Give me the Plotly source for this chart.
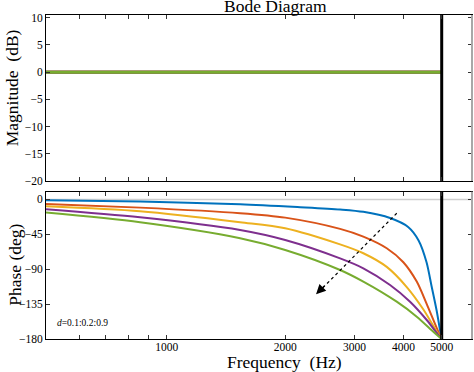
import math
import plotly.graph_objects as go

# ---------------- data ----------------
d_values = ["d=0.1", "d=0.3", "d=0.5", "d=0.7", "d=0.9"]
colors = ["#0072BD", "#D95319", "#EDB120", "#7E2F8E", "#77AC30"]

mag_freq = [493, 5000]
mag_db = [0, 0]

freq_d01 = [493, 855, 1536, 2183, 2758, 3160, 3695, 4107, 4367, 4575, 4712, 4852, 4951, 5000]
phase_d01 = [-1.0, -2.8, -6.2, -10.0, -13.0, -16.0, -24.0, -35.5, -52.9, -81.0, -112.0, -143.0, -168.4, -180]

freq_d03 = [493, 855, 1536, 2000, 2758, 3160, 3624, 3994, 4320, 4581, 4858, 5000]
phase_d03 = [-5.8, -10.6, -17.8, -23.5, -38, -48, -63, -81, -106, -135, -166, -180]

freq_d05 = [493, 855, 1536, 2000, 2758, 3160, 3624, 4075, 4492, 4858, 5000]
phase_d05 = [-8.8, -15.2, -29.4, -37.2, -58, -69.4, -87, -113, -142, -170.6, -180]

freq_d07 = [493, 855, 1536, 2000, 2758, 3160, 3695, 4154, 4581, 4902, 5000]
phase_d07 = [-12.6, -23, -39.4, -52.3, -76, -88.8, -110.3, -131.9, -155.5, -174.8, -180]

freq_d09 = [493, 855, 1536, 2000, 2758, 3160, 3842, 4320, 4761, 5000]
phase_d09 = [-17, -29.4, -50.1, -65.2, -91, -106, -131.9, -151.2, -170.6, -180]

phase_freqs = [freq_d01, freq_d03, freq_d05, freq_d07, freq_d09]
phase_vals = [phase_d01, phase_d03, phase_d05, phase_d07, phase_d09]

nyquist = 5000
x_tickvals = [600, 700, 800, 900, 1000, 2000, 3000, 4000, 5000]
x_ticktext = ["", "", "", "", "1000", "2000", "3000", "4000", "5000"]
mag_ticks = [-20, -15, -10, -5, 0, 5, 10]
phase_ticks = [-180, -135, -90, -45, 0]

x_min, x_max = 493, 5970
mag_range = [-20, 10.5]
phase_range = [-180, 10]

arrow_start = (3843, -17.8)
arrow_tip = (2396, -122.3)

# ---------------- figure ----------------
serif = "Liberation Serif, Times New Roman, serif"
fig = go.Figure()

# magnitude lines (all overlap at 0 dB)
for name, c in zip(d_values, colors):
    fig.add_trace(go.Scatter(x=mag_freq, y=mag_db, mode="lines", name=name,
                             line=dict(color=c, width=3), xaxis="x", yaxis="y",
                             showlegend=False))

# phase zero reference
fig.add_trace(go.Scatter(x=[x_min, x_max], y=[0, 0], mode="lines",
                         line=dict(color="#cfcfcf", width=1.5), xaxis="x2", yaxis="y2",
                         showlegend=False))

for name, c, fx, px in zip(d_values, colors, phase_freqs, phase_vals):
    fig.add_trace(go.Scatter(x=fx, y=px, mode="lines", name=name,
                             line=dict(color=c, width=2, shape="spline", smoothing=0.8),
                             xaxis="x2", yaxis="y2", showlegend=False))

# dotted arrow shaft
fig.add_trace(go.Scatter(x=[arrow_start[0], 2470], y=[arrow_start[1], -116],
                         mode="lines", line=dict(color="black", width=1.2, dash="dot"),
                         xaxis="x2", yaxis="y2", showlegend=False))

# vertical Nyquist lines
fig.add_trace(go.Scatter(x=[nyquist, nyquist], y=mag_range, mode="lines",
                         line=dict(color="black", width=3), xaxis="x", yaxis="y",
                         showlegend=False))
fig.add_trace(go.Scatter(x=[nyquist, nyquist], y=phase_range, mode="lines",
                         line=dict(color="black", width=3), xaxis="x2", yaxis="y2",
                         showlegend=False))

tickfont = dict(family=serif, size=11.5, color="black")
common_x = dict(type="log", range=[math.log10(x_min), math.log10(x_max)],
                tickvals=x_tickvals, ticktext=x_ticktext, ticks="inside",
                ticklen=4, tickcolor="#333", showline=True, linecolor="black",
                linewidth=1, mirror="ticks", showgrid=False, zeroline=False,
                tickfont=tickfont)
common_y = dict(ticks="inside", ticklen=4, tickcolor="#333", showline=True,
                linecolor="black", linewidth=1, mirror="ticks", showgrid=False,
                zeroline=False, tickfont=tickfont)

fig.update_layout(
    width=474, height=372,
    margin=dict(l=46, r=2, t=14.5, b=32.5),
    paper_bgcolor="white", plot_bgcolor="white",
    xaxis=dict(common_x, anchor="y", domain=[0, 1], showticklabels=False),
    yaxis=dict(common_y, anchor="x", domain=[0.4877, 1.0], range=mag_range,
               tickvals=mag_ticks),
    xaxis2=dict(common_x, anchor="y2", domain=[0, 1], matches="x",
                ticklabelstandoff=-3),
    yaxis2=dict(common_y, anchor="x2", domain=[0, 0.4548], range=phase_range,
                tickvals=phase_ticks),
    showlegend=False,
)

# gray right frame edges
for xr, yr in [("x domain", "y domain"), ("x2 domain", "y2 domain")]:
    fig.add_shape(type="line", xref=xr, yref=yr, x0=1, x1=1, y0=0, y1=1,
                  line=dict(color="#a8a8a8", width=2))

titlefont = dict(family=serif, size=17.5, color="black")
fig.add_annotation(text="Bode Diagram", xref="paper", yref="paper", x=0.5376, y=1.028,
                   showarrow=False, font=titlefont, xanchor="center", yanchor="middle")
fig.add_annotation(text="Magnitude  (dB)", xref="paper", yref="paper", x=-0.0798, y=0.774,
                   textangle=-90, showarrow=False, font=titlefont,
                   xanchor="center", yanchor="middle")
fig.add_annotation(text="Phase (deg)", xref="paper", yref="paper", x=-0.0728, y=0.229,
                   textangle=-90, showarrow=False, font=titlefont,
                   xanchor="center", yanchor="middle")
fig.add_annotation(text="Frequency  (Hz)", xref="paper", yref="paper", x=0.561, y=-0.0723,
                   showarrow=False, font=titlefont, xanchor="center", yanchor="middle")

# d label
fig.add_annotation(text="<i>d</i>=0.1:0.2:0.9", xref="x2", yref="y2",
                   x=math.log10(520), y=-159.4, xanchor="left", yanchor="middle",
                   showarrow=False, font=dict(family=serif, size=9.5, color="black"))

# arrow head
fig.add_annotation(text="", xref="x2", yref="y2", x=math.log10(arrow_tip[0]), y=arrow_tip[1],
                   ax=10, ay=-10, showarrow=True, arrowhead=2, arrowsize=1.6,
                   arrowwidth=1.2, arrowcolor="black", standoff=0)

fig.write_html("out.html")
